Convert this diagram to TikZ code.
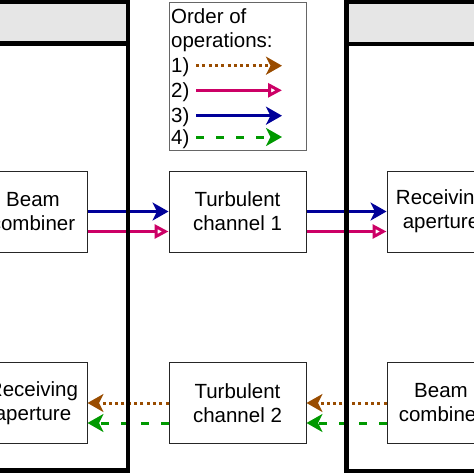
\documentclass[tikz,border=0pt]{standalone}
\usepackage{fontspec}
\setmainfont{Liberation Sans}
\usetikzlibrary{arrows.meta}
\definecolor{cbrown}{RGB}{153,76,0}
\definecolor{cpink}{RGB}{204,0,102}
\definecolor{cblue}{RGB}{0,0,153}
\definecolor{cgreen}{RGB}{0,153,0}
\definecolor{hdr}{RGB}{230,230,230}
\begin{document}
\begin{tikzpicture}[x=1pt,y=-1pt,
 box/.style={draw=black!85, line width=1pt, minimum width=137pt, minimum height=81pt, align=center, font=\fontsize{20.5}{24}\selectfont, inner sep=0pt},
 sidebox/.style={box, minimum width=108pt},
 lbl/.style={anchor=base west, font=\fontsize{20.5}{24}\selectfont, inner sep=0pt},
 flow/.style={line width=3pt},
 cls/.style={-{Stealth[length=16pt,width=18pt,inset=4.5pt]}},
 opn/.style={-{Triangle[length=14pt,width=14pt,fill=white]}},
 a1/.style={flow, cbrown, dash pattern=on 3pt off 3.3pt, cls},
 a2/.style={flow, cpink, opn},
 a3/.style={flow, cblue, cls},
 a4/.style={flow, cgreen, dash pattern=on 8pt off 12pt, cls},
 wall/.style={line width=4.5pt, black},
]
\useasboundingbox (0,0) rectangle (474,474);
\clip (0,0) rectangle (474,474);
\fill[hdr] (-10,1.5) rectangle (128,43.5);
\fill[hdr] (346.5,1.5) rectangle (484,44);
% blocks
\node[box] (tc1) at (237.5,211.5) {Turbulent\\channel 1};
\node[box] (tc2) at (237.5,403) {Turbulent\\channel 2};
\node[sidebox] (bc1) at (33,211.5) {Beam\\combiner};
\node[sidebox] (ra1) at (441,211.5) {Receiving\\aperture};
\node[sidebox] (ra2) at (33,403) {Receiving\\aperture};
\node[sidebox] (bc2) at (441,403) {Beam\\combiner};
% legend
\node[draw=black!60, line width=1pt, minimum width=137pt, minimum height=148pt, inner sep=0pt] (leg) at (237.5,76) {};
\node[lbl] (lt1) at (171,23.3) {Order of};
\node[lbl] (lt2) at (171,47) {operations:};
\node[lbl] (n1) at (171,72.7) {1)};
\node[lbl] (n2) at (171,97.3) {2)};
\node[lbl] (n3) at (171,122.7) {3)};
\node[lbl] (n4) at (171,144) {4)};
\coordinate (s1) at (196,65.7); \coordinate (e1) at (282,65.7);
\coordinate (s2) at (196,90.3); \coordinate (e2) at (282,90.3);
\coordinate (s3) at (196,115.7); \coordinate (e3) at (282,115.7);
\coordinate (s4) at (196,137); \coordinate (e4) at (282,137);
\draw[a1] (s1) -- (e1);
\draw[a2] (s2) -- (e2);
\draw[a3] (s3) -- (e3);
\draw[a4] (s4) -- (e4);
% flows
\draw[a3] (bc1.east) -- (tc1.west);
\draw[a2] ([yshift=-20pt]bc1.east) -- ([yshift=-20pt]tc1.west);
\draw[a3] (tc1.east) -- (ra1.west);
\draw[a2] ([yshift=-20pt]tc1.east) -- ([yshift=-20pt]ra1.west);
\draw[a1] (bc2.west) -- (tc2.east);
\draw[a4] ([yshift=-20pt]bc2.west) -- ([yshift=-20pt]tc2.east);
\draw[a1] (tc2.west) -- (ra2.east);
\draw[a4] ([yshift=-20pt]tc2.west) -- ([yshift=-20pt]ra2.east);
% walls
\draw[wall] (-10,1.5) -| (128,470.5) -- (-10,470.5);
\draw[wall] (-10,43.5) -- (128,43.5);
\draw[wall] (484,1.5) -| (346.5,471) -- (484,471);
\draw[wall] (346.5,44) -- (484,44);
\end{tikzpicture}
\end{document}
